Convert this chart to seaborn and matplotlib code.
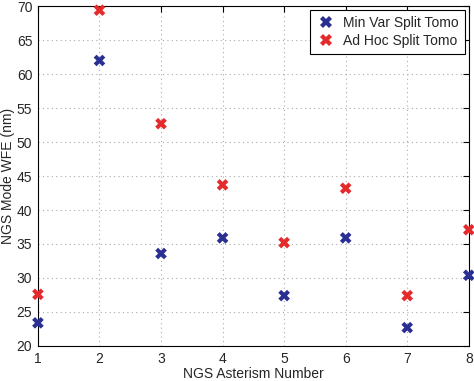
import pandas as pd
import seaborn as sns
import matplotlib.pyplot as plt

asterism = [1, 2, 3, 4, 5, 6, 7, 8]
min_var = [23.4, 62.0, 33.6, 35.9, 27.4, 35.9, 22.7, 30.4]
ad_hoc = [27.6, 69.4, 52.7, 43.7, 35.2, 43.2, 27.4, 37.1]
series_names = ["Min Var Split Tomo", "Ad Hoc Split Tomo"]

df = pd.DataFrame({
    "NGS Asterism Number": asterism * 2,
    "NGS Mode WFE (nm)": min_var + ad_hoc,
    "Method": [series_names[0]] * len(asterism) + [series_names[1]] * len(asterism),
})

sns.set_style("white")
plt.rcParams["font.family"] = ["Liberation Sans", "DejaVu Sans"]

fig = plt.figure(figsize=(4.74, 3.81), dpi=100)
ax = fig.add_axes([0.080, 0.092, 0.909, 0.892])
sns.scatterplot(
    data=df, x="NGS Asterism Number", y="NGS Mode WFE (nm)", hue="Method",
    palette=["#2a2f92", "#e52a2c"], marker="X", s=70, linewidth=0,
    ax=ax, clip_on=False, zorder=3,
)

ax.set_xlim(1, 8)
ax.set_ylim(20, 70)
ax.set_xticks(asterism)
ax.set_yticks(range(20, 71, 5))
ax.grid(True, linestyle=(0, (1, 3)), color="#aaaaaa", linewidth=0.8)
ax.tick_params(direction="in", top=True, right=True, length=4, width=0.8,
               labelsize=10, color="black", pad=4)
for s in ax.spines.values():
    s.set_color("black")
    s.set_linewidth(0.8)
ax.set_xlabel("NGS Asterism Number", fontsize=10, labelpad=1)
ax.set_ylabel("NGS Mode WFE (nm)", fontsize=10, labelpad=1)

leg = ax.legend(loc="upper right", fontsize=10, frameon=True, fancybox=False,
                edgecolor="black", framealpha=1, borderaxespad=0.3,
                handletextpad=0.5, labelspacing=0.3, borderpad=0.4,
                handlelength=1.5)
leg.get_frame().set_linewidth(0.8)

fig.savefig("out.png", dpi=100)
